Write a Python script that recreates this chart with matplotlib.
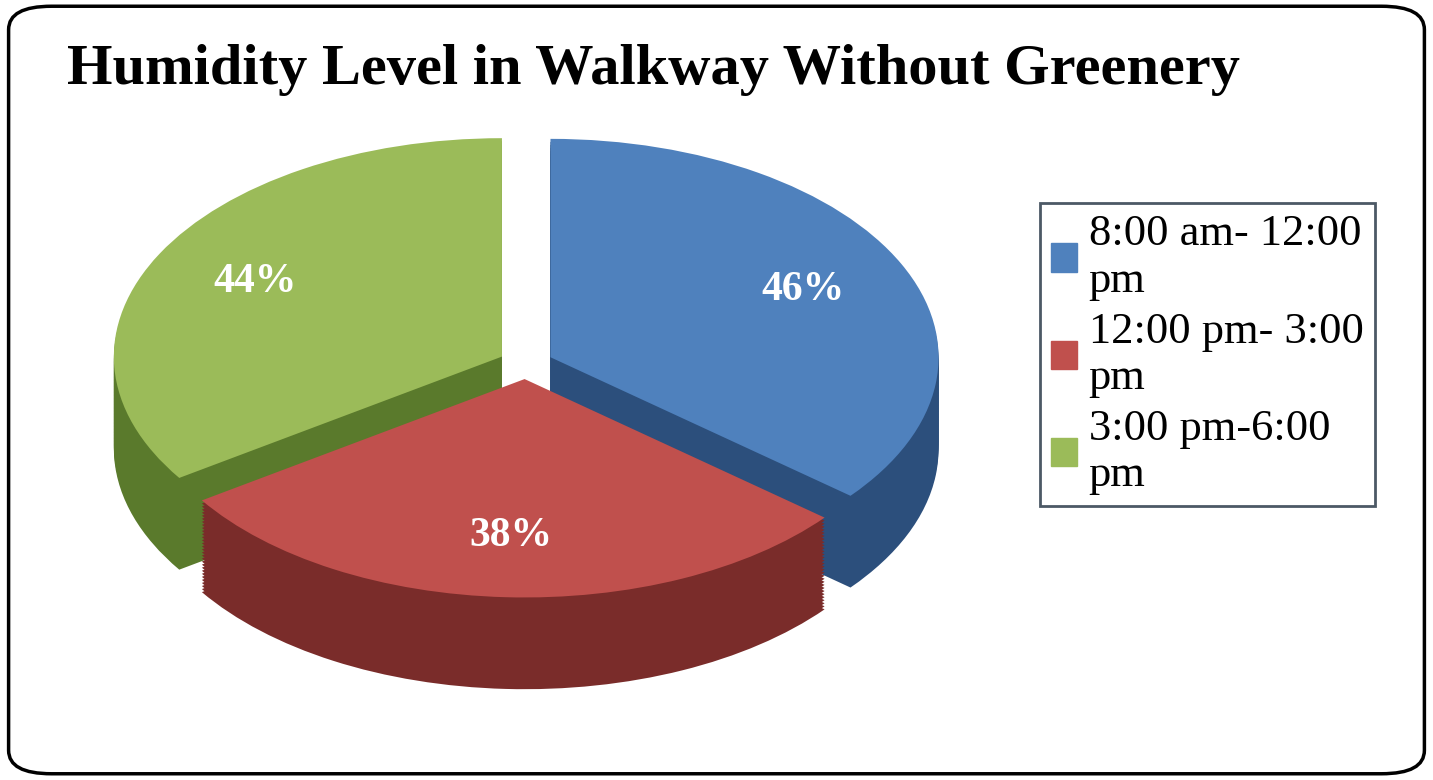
import matplotlib.pyplot as plt
from matplotlib.patches import FancyBboxPatch, Patch

labels = ["8:00 am- 12:00\npm", "12:00 pm- 3:00\npm", "3:00 pm-6:00\npm"]
values = [46, 38, 44]
top_colors = ["#4f81bd", "#c0504d", "#9bbb59"]
side_colors = ["#2c4f7c", "#7a2c2a", "#5a7a2c"]

total = sum(values)
serif = "Liberation Serif"

fig = plt.figure(figsize=(14.33, 7.8), dpi=100)
fig.patches.append(FancyBboxPatch((0.006, 0.008), 0.988, 0.984,
                                  boxstyle="round,pad=0,rounding_size=0.03",
                                  transform=fig.transFigure, fill=False,
                                  lw=2.5, ec="black"))
fig.text(0.047, 0.91, "Humidity Level in Walkway Without Greenery",
         fontsize=42, fontweight="bold", family=serif, va="center")

ax = fig.add_axes([0.042, 0.08, 0.65, 0.77])
explode = [0.07, 0.07, 0.07]
depth = 0.42
steps = 30
for i in range(steps):
    off = -depth + depth * i / steps
    ax.pie(values, colors=side_colors, startangle=90, counterclock=False,
           explode=explode, center=(0, off),
           wedgeprops=dict(linewidth=0))
wedges, _, autotexts = ax.pie(values, colors=top_colors, startangle=90, counterclock=False,
                              explode=explode, autopct=lambda p: f"{p * total / 100:.0f}%",
                              pctdistance=0.72, wedgeprops=dict(linewidth=0))
for t in autotexts:
    t.set_color("white")
    t.set_fontsize(30)
    t.set_fontweight("bold")
    t.set_family(serif)
ax.set_aspect("auto")
ax.set_xlim(-1.2, 1.2)
ax.set_ylim(-1.62, 1.13)
ax.axis("off")

handles = [Patch(color=c) for c in top_colors]
leg = fig.legend(handles, labels, loc="center left", bbox_to_anchor=(0.71, 0.545),
                 prop={"family": serif, "size": 32}, frameon=True, fancybox=False,
                 handlelength=0.6, handleheight=0.6, handletextpad=0.25,
                 labelspacing=0.25, borderpad=0.25)
leg.get_frame().set_edgecolor("#1f2f3f")
leg.get_frame().set_linewidth(2)

fig.savefig("out.png", dpi=100)
